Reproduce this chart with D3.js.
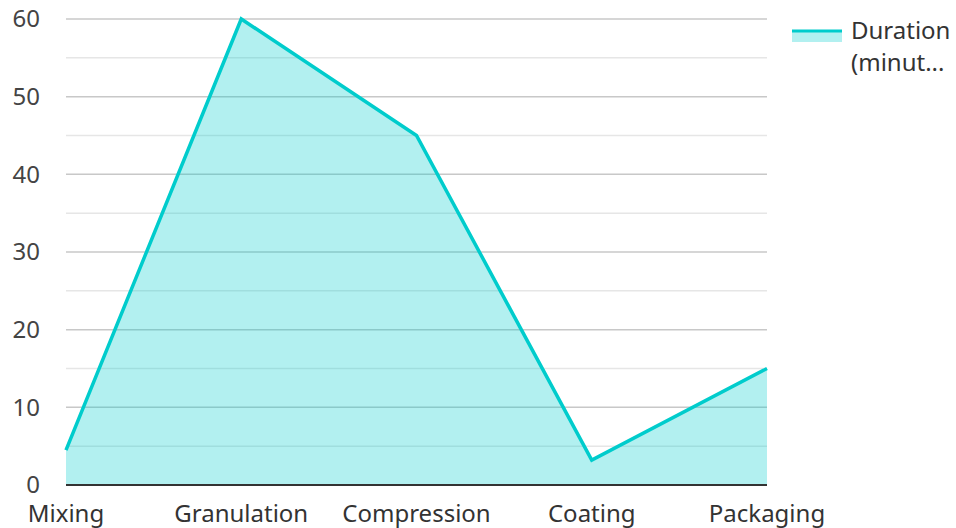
<!DOCTYPE html>
<html>
<head>
<meta charset="utf-8">
<script src="https://cdn.jsdelivr.net/npm/d3@7"></script>
<style>
  body { margin: 0; background: #fff; }
  svg { display: block; font-family: "Noto Sans", "Open Sans", sans-serif; }
</style>
</head>
<body>
<svg width="956" height="528"></svg>
<script>
const categories = ["Mixing", "Granulation", "Compression", "Coating", "Packaging"];
const durations = [4.5, 60, 45, 3.2, 15];
const yTicks = [0, 10, 20, 30, 40, 50, 60];
const yMinorTicks = [5, 15, 25, 35, 45, 55];
const seriesName = ["Duration", "(minut..."];

const svg = d3.select("svg");
const margin = { left: 66, right: 189, top: 19, bottom: 43 };
const width = 956, height = 528;
const fontSize = 24;

const x = d3.scalePoint()
    .domain(categories)
    .range([margin.left, width - margin.right]);

const y = d3.scaleLinear()
    .domain([0, 60])
    .range([height - margin.bottom, margin.top]);

const data = categories.map((c, i) => ({ cat: c, v: durations[i] }));

// minor gridlines
svg.append("g").selectAll("line")
    .data(yMinorTicks)
    .join("line")
    .attr("x1", margin.left).attr("x2", width - margin.right)
    .attr("y1", d => y(d)).attr("y2", d => y(d))
    .attr("stroke", "#e6e6e6").attr("stroke-width", 1.5);

// major gridlines
svg.append("g").selectAll("line")
    .data(yTicks.filter(d => d > 0))
    .join("line")
    .attr("x1", margin.left).attr("x2", width - margin.right)
    .attr("y1", d => y(d)).attr("y2", d => y(d))
    .attr("stroke", "#c8c8c8").attr("stroke-width", 1.5);

// area
const area = d3.area()
    .x(d => x(d.cat))
    .y0(y(0))
    .y1(d => y(d.v));

svg.append("path")
    .datum(data)
    .attr("d", area)
    .attr("fill", "#00cccc")
    .attr("fill-opacity", 0.3);

// line
const line = d3.line()
    .x(d => x(d.cat))
    .y(d => y(d.v));

svg.append("path")
    .datum(data)
    .attr("d", line)
    .attr("fill", "none")
    .attr("stroke", "#00cccc")
    .attr("stroke-width", 3.5);

// x axis line
svg.append("line")
    .attr("x1", margin.left).attr("x2", width - margin.right)
    .attr("y1", y(0)).attr("y2", y(0))
    .attr("stroke", "#333").attr("stroke-width", 2);

// y tick labels
svg.append("g").selectAll("text")
    .data(yTicks)
    .join("text")
    .attr("x", 40)
    .attr("y", d => y(d))
    .attr("dy", "0.35em")
    .attr("text-anchor", "end")
    .attr("font-size", fontSize)
    .attr("fill", "#444")
    .text(d => d);

// x tick labels
svg.append("g").selectAll("text")
    .data(categories)
    .join("text")
    .attr("x", d => x(d))
    .attr("y", 522)
    .attr("text-anchor", "middle")
    .attr("font-size", fontSize)
    .attr("fill", "#333")
    .text(d => d);

// legend
const legend = svg.append("g").attr("transform", "translate(792, 31)");
legend.append("rect")
    .attr("x", 0).attr("y", 0).attr("width", 50).attr("height", 11)
    .attr("fill", "#00cccc").attr("fill-opacity", 0.3);
legend.append("line")
    .attr("x1", 0).attr("x2", 50).attr("y1", 0).attr("y2", 0)
    .attr("stroke", "#00cccc").attr("stroke-width", 3);
legend.selectAll("text.lbl")
    .data(seriesName)
    .join("text")
    .attr("class", "lbl")
    .attr("x", 59)
    .attr("y", (d, i) => i * 32)
    .attr("dy", "0.35em")
    .attr("font-size", fontSize)
    .attr("fill", "#333")
    .text(d => d);
</script>
</body>
</html>
